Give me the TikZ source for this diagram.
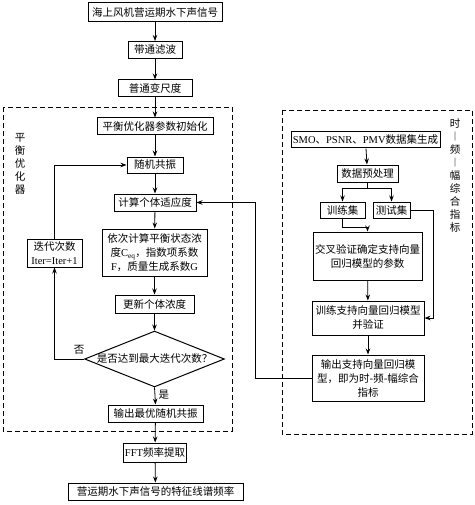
\documentclass[tikz,border=0pt]{standalone}
\usepackage{fontspec}
\setmainfont{Noto Sans CJK SC}
\newfontfamily\lat{Liberation Serif}
\usetikzlibrary{shapes.geometric,arrows.meta}

\tikzset{
	blk/.style={draw,line width=1pt,inner sep=1pt,align=center,font=\fontsize{10.5}{14}\selectfont},
	cond/.style={draw,diamond,aspect=2.5,line width=1pt,inner sep=0pt,font=\fontsize{10.5}{14}\selectfont},
	frame/.style={line width=.8pt,dash pattern=on 5pt off 3pt},
	lbl/.style={align=center,font=\fontsize{10.5}{13}\selectfont},
}

\begin{document}
\begin{tikzpicture}[x=1pt,y=-1pt,>={Stealth[length=6pt,width=4.5pt]},line width=.8pt]
	\useasboundingbox(0,0) rectangle(474,505);
	% main column
	\node[blk,minimum width=134,minimum height=19](src) at(155,12.5){海上风机营运期水下声信号};
	\node[blk,minimum width=54,minimum height=17](bp) at(155,50){带通滤波};
	\node[blk,minimum width=74,minimum height=17](cwt) at(155,88.5){普通变尺度};
	\node[blk,minimum width=116,minimum height=17](init) at(155,126.5){平衡优化器参数初始化};
	\node[blk,minimum width=56,minimum height=16](sr) at(155,165){随机共振};
	\node[blk,minimum width=82,minimum height=17](fit) at(155,202.5){计算个体适应度};
	\node[blk,minimum width=105,minimum height=47](calc) at(154.5,252.5){依次计算平衡状态浓\\度{\lat C\textsubscript{eq}}，指数项系数\\{\lat F}，质量生成系数{\lat G}};
	\node[blk,minimum width=55,minimum height=28](iter) at(54.5,253){迭代次数\\{\lat Iter=Iter+1}};
	\node[blk,minimum width=79,minimum height=18](upd) at(154.5,304){更新个体浓度};
	\node[cond](dec) at(154.5,359){是否达到最大迭代次数？};
	\node[blk,minimum width=95,minimum height=17](out) at(155.5,413.5){输出最优随机共振};
	\node[blk,minimum width=56,minimum height=19](fft) at(155,452.5){{\lat FFT}频率提取};
	\node[blk,minimum width=175,minimum height=17](res) at(155.5,491.5){营运期水下声信号的特征线谱频率};
	% right column
	\node[blk,minimum width=149,minimum height=16](gen) at(365.5,140){{\lat SMO}、{\lat PSNR}、{\lat PMV}数据集生成};
	\node[blk,minimum width=61,minimum height=17](pre) at(367.5,173.5){数据预处理};
	\node[blk,minimum width=45,minimum height=16](train) at(342.5,210){训练集};
	\node[blk,minimum width=37,minimum height=16](test) at(391.5,210){测试集};
	\node[blk,minimum width=109,minimum height=48](cv) at(367.5,256){交叉验证确定支持向量\\回归模型的参数};
	\node[blk,minimum width=112,minimum height=34](trn) at(368,318){训练支持向量回归模型\\并验证};
	\node[blk,minimum width=112,minimum height=46](svr) at(368,378){输出支持向量回归模\\型，即为时-频-幅综合\\指标};
	% frames
	\draw[frame](3,107) rectangle(232,431);
	\draw[frame](282,110) rectangle(472,434);
	\node[lbl](lbopt) at(20,163.5){平\\衡\\优\\化\\器};
	\node[lbl](lbidx) at(455,176){时\\︱\\频\\︱\\幅\\综\\合\\指\\标};
	% connectors
	\draw[->](src)--(bp);
	\draw[->](bp)--(cwt);
	\draw[->](cwt)--(init);
	\draw[->](init)--(sr);
	\draw[->](sr)--(fit);
	\draw[->](fit)--(calc);
	\draw[->](calc)--(upd);
	\draw[->](upd)--(dec);
	\draw[->](dec.south)--node[lbl,right,pos=.45]{是}(out.north);
	\draw[->](out)--(fft);
	\draw[->](fft)--(res);
	\draw[->](dec.west)-|(iter.south);
	\node[lbl](lbno) at(79,350){否};
	\draw[->](iter.north)|-(sr.west);
	\coordinate(back) at(255,378);
	\draw[->](svr.west)--(back)|-(fit.east);
	\draw[->](gen)--(pre);
	\coordinate(split) at(367.5,188);
	\draw[->](pre.south)--(split)-|(train.north);
	\draw[->](split)-|(test.north);
	\coordinate(tr) at(342.5,227);
	\draw[->](train.south)--(tr)-|(cv.north);
	\coordinate(te) at(433,210);
	\draw[->](test.east)--(te)|-(trn.east);
	\draw[->](cv)--(trn);
	\draw[->](trn)--(svr);
\end{tikzpicture}
\end{document}
